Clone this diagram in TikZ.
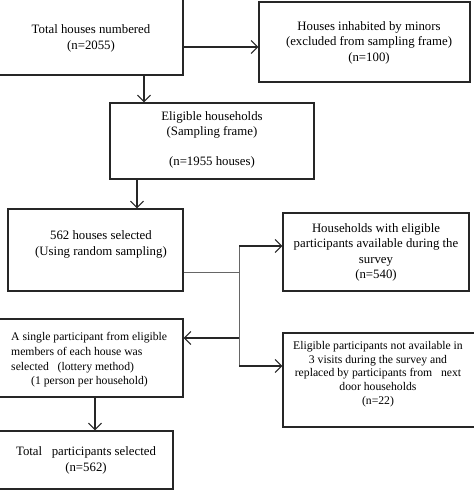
\documentclass[tikz,border=0pt]{standalone}
\usepackage{fontspec}
\setmainfont{Liberation Serif}
\usetikzlibrary{arrows.meta}
\begin{document}
\begin{tikzpicture}[x=1pt,y=-1pt,
  box/.style={draw=black!85, line width=1.2pt, rectangle, inner sep=0pt},
  txt/.style={inner sep=0pt, align=center, font=\fontsize{12.8}{15.5}\selectfont},
  small/.style={font=\fontsize{11.7}{13.6}\selectfont},
  arr/.style={draw=black!85, line width=1.1pt, -{Straight Barb[length=6.5pt,width=13pt,line width=1.1pt]}},
  ln/.style={draw=black!60, line width=0.8pt}]
\path[use as bounding box, clip] (0,0) rectangle (474,491);
\fill[white] (0,0) rectangle (474,491);

% boxes
\node[box, minimum width=188, minimum height=80] (b1) at (89,35) {};
\node[box, minimum width=211, minimum height=80] (b2) at (364.5,42) {};
\node[box, minimum width=204, minimum height=76] (b3) at (212,141) {};
\node[box, minimum width=175, minimum height=82] (b4) at (95.5,250) {};
\node[box, minimum width=186, minimum height=78] (b5) at (376,252) {};
\node[box, minimum width=188, minimum height=78] (b6) at (89,358) {};
\node[box, minimum width=193, minimum height=94] (b7) at (379.5,380) {};
\node[box, minimum width=178, minimum height=58] (b8) at (84,460) {};

% texts
\node[txt] (t1) at (91,38.5) {Total houses numbered\\(n=2055)};
\node[txt] (t2) at (369,42.5) {Houses inhabited by minors\\(excluded from sampling frame)\\(n=100)};
\node[txt] (t3) at (212,139.5) {Eligible households\\(Sampling frame)\\[14pt](n=1955 houses)};
\node[txt] (t4) at (101,244.5) {562 houses selected\\(Using random sampling)};
\node[txt] (t5) at (376,252.5) {Households with eligible\\participants available during the\\survey\\(n=540)};
\node[txt, align=left, anchor=west, font=\fontsize{11.7}{14.6}\selectfont] (t6) at (11,360)
  {A single participant from eligible\\members of each house was\\selected\ \ \ (lottery method)\\\hspace*{20pt}(1 person per household)};
\node[txt, small] (t7) at (378,374) {Eligible participants not available in\\3 visits during the survey and\\replaced by participants from\ \ \ next\\door households\\(n=22)};
\node[txt] (t8) at (86,460.5) {Total\ \ \ participants selected\\(n=562)};

% connectors
\coordinate (j0) at (239,272);
\coordinate (j1) at (239,246);
\coordinate (j2) at (239,338);
\coordinate (j3) at (239,366);

\draw[arr] (b1.east |- 0,47) -- (b2.west |- 0,47);
\draw[arr] (144,0 |- b1.south) -- (144,0 |- b3.north);
\draw[arr] (137,0 |- b3.south) -- (137,0 |- b4.north);
\draw[ln] (b4.east |- j0) -- (j0);
\draw[ln] (j1) -- (j3);
\draw[arr] (j1) -- (b5.west |- j1);
\draw[arr] (j2) -- (b6.east |- j2);
\draw[arr] (j3) -- (b7.west |- j3);
\draw[arr] (95,0 |- b6.south) -- (95,0 |- b8.north);
\end{tikzpicture}
\end{document}
